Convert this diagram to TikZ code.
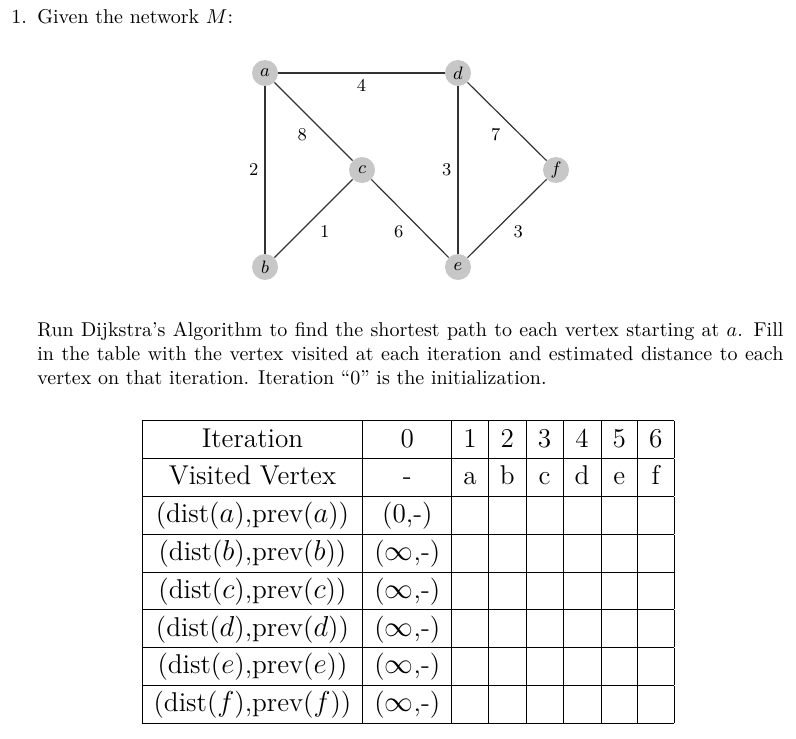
\documentclass[tikz,border=0pt]{standalone}
\usepackage{amsmath,amssymb}
\usepackage{tikz}
\usetikzlibrary{positioning}

\begin{document}
\begin{tikzpicture}[x=0.5pt,y=-0.5pt,
  every node/.style={font=\small},
  vertex/.style={circle,fill=black!22,minimum size=13pt,inner sep=0pt},
  edge/.style={draw=black!80,line width=0.6pt},
  wt/.style={font=\small,inner sep=3pt}
]
  \useasboundingbox (0,0) rectangle (796,738);
  % heading
  \node[anchor=base west,inner sep=0pt,font=\normalsize] (item) at (11,24) {1.};
  \node[anchor=base west,inner sep=0pt,font=\normalsize] (head) at (37,24) {Given the network $M$:};
  % the network
  \node[vertex] (a) at (265,73) {$a$};
  \node[vertex] (d) at (458,73) {$d$};
  \node[vertex] (c) at (362,170) {$c$};
  \node[vertex] (f) at (556,170) {$f$};
  \node[vertex] (b) at (265,267) {$b$};
  \node[vertex] (e) at (458,267) {$e$};
  \foreach \u/\v/\w/\p in {a/d/4/below,a/b/2/left,a/c/8/below left,b/c/1/below right,
                           c/e/6/below left,d/e/3/left,d/f/7/below left,e/f/3/below right}{
    \draw[edge] (\u) -- node[wt,\p]{\w} (\v);
  }
  % task
  \node[anchor=north west,inner sep=0pt,text width=373pt,align=justify,font=\normalsize] (task) at (37,322)
    {Run Dijkstra's Algorithm to find the shortest path to each vertex starting at $a$. Fill in the table with the vertex visited at each iteration and estimated distance to each vertex on that iteration. Iteration ``0'' is the initialization.};
  % table
  \node[anchor=north,inner sep=0pt,font=\fontsize{13.6}{18.5}\selectfont] (tbl) at (408,420) {%
    \setlength{\tabcolsep}{5.8pt}%
    \begin{tabular}{|c|c|c|c|c|c|c|c|}
      \hline
      Iteration & 0 & 1 & 2 & 3 & 4 & 5 & 6 \\ \hline
      Visited Vertex & - & a & b & c & d & e & f \\ \hline
      (dist($a$),prev($a$)) & (0,-) & & & & & & \\ \hline
      (dist($b$),prev($b$)) & ($\infty$,-) & & & & & & \\ \hline
      (dist($c$),prev($c$)) & ($\infty$,-) & & & & & & \\ \hline
      (dist($d$),prev($d$)) & ($\infty$,-) & & & & & & \\ \hline
      (dist($e$),prev($e$)) & ($\infty$,-) & & & & & & \\ \hline
      (dist($f$),prev($f$)) & ($\infty$,-) & & & & & & \\ \hline
    \end{tabular}};
\end{tikzpicture}
\end{document}
